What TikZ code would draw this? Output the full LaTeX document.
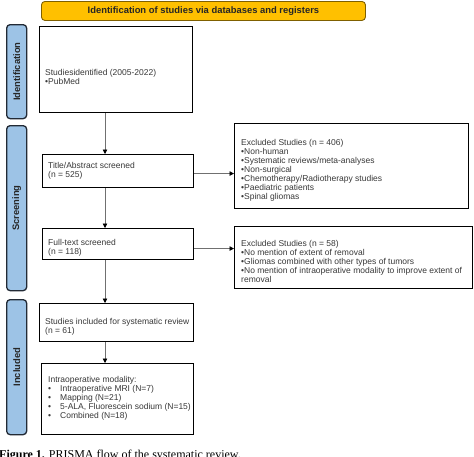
\documentclass[tikz,border=0pt]{standalone}
\usepackage{fontspec}
\setmainfont{Liberation Sans}
\newfontfamily\capfont{Liberation Serif}
\usetikzlibrary{arrows.meta}
\definecolor{bannerfill}{HTML}{FFC000}
\definecolor{bannerdraw}{HTML}{7F6000}
\definecolor{sidefill}{HTML}{9DC3E6}
\definecolor{sidedraw}{HTML}{222A35}
\definecolor{txtgray}{HTML}{383838}
\definecolor{arrgray}{HTML}{707070}
\begin{document}
\begin{tikzpicture}[x=1pt,y=-1pt,
  box/.style={draw=black, line width=1.1pt, rectangle, inner sep=0pt, anchor=north west},
  txt/.style={font=\fontsize{8.5}{9}\selectfont, text=txtgray, align=left, inner sep=0pt, anchor=west},
  side/.style={draw=sidedraw, fill=sidefill, line width=1.3pt, rounded corners=3.5pt, anchor=north west, inner sep=0pt},
  sidetxt/.style={font=\bfseries\fontsize{9.4}{10}\selectfont, text=black!85, rotate=90},
  banner/.style={draw=bannerdraw, fill=bannerfill, line width=0.9pt, rounded corners=3.5pt, anchor=north west, inner sep=0pt, font=\bfseries\fontsize{9.4}{10}\selectfont, text=black!85},
  arr/.style={draw=arrgray, line width=0.7pt, -{Triangle[length=4.5pt,width=4.5pt,color=black]}}
]
\useasboundingbox (0,0) rectangle (474,456);
\fill[white] (0,0) rectangle (474,456);

% banner
\node[banner, minimum width=324pt, minimum height=19pt] (ban) at (41,1) {Identification of studies via databases and registers};

% side bars
\node[side, minimum width=20pt, minimum height=94pt] (sid) at (6,24) {};
\node[sidetxt] (sidt) at (sid.center) {Identification};
\node[side, minimum width=20pt, minimum height=165pt] (sscr) at (6,125) {};
\node[sidetxt] (sscrt) at (sscr.center) {Screening};
\node[side, minimum width=20pt, minimum height=135pt] (sinc) at (6,299) {};
\node[sidetxt] (sinct) at (sinc.center) {Included};

% boxes
\node[box, minimum width=153pt, minimum height=86pt] (b1) at (39,26) {};
\node[txt] (t1) at (45,77.2) {Studiesidentified (2005-2022)\\\textbullet PubMed};

\node[box, minimum width=151pt, minimum height=33pt] (b2) at (42,154) {};
\node[txt] (t2) at ([xshift=6pt]b2.west) {Title/Abstract screened\\(n = 525)};

\node[box, minimum width=151pt, minimum height=31pt] (b3) at (42,228) {};
\node[txt] (t3) at ([xshift=6pt,yshift=-3.5pt]b3.west) {Full-text screened\\(n = 118)};

\node[box, minimum width=154pt, minimum height=38pt] (b4) at (39,303) {};
\node[txt] (t4) at ([xshift=6pt,yshift=-4.5pt]b4.west) {Studies included for systematic review\\(n = 61)};

\node[box, minimum width=152pt, minimum height=71pt] (b5) at (41,363) {};
\node[txt, font=\fontsize{8.5}{9.1}\selectfont] (t5) at ([xshift=7pt,yshift=1pt]b5.west) {Intraoperative modality:\\
\makebox[12pt][l]{\textbullet}Intraoperative MRI (N=7)\\
\makebox[12pt][l]{\textbullet}Mapping (N=21)\\
\makebox[12pt][l]{\textbullet}5-ALA, Fluorescein sodium (N=15)\\
\makebox[12pt][l]{\textbullet}Combined (N=18)};

\node[box, minimum width=234pt, minimum height=85pt] (e1) at (234,123) {};
\node[txt] (te1) at ([xshift=7pt,yshift=-4.5pt]e1.west) {Excluded Studies (n = 406)\\
\textbullet Non-human\\
\textbullet Systematic reviews/meta-analyses\\
\textbullet Non-surgical\\
\textbullet Chemotherapy/Radiotherapy studies\\
\textbullet Paediatric patients\\
\textbullet Spinal gliomas};

\node[box, minimum width=238pt, minimum height=62pt] (e2) at (234,226) {};
\node[txt] (te2) at ([xshift=7pt,yshift=-4pt]e2.west) {Excluded Studies (n = 58)\\
\textbullet No mention of extent of removal\\
\textbullet Gliomas combined with other types of tumors\\
\textbullet No mention of intraoperative modality to improve extent of\\
removal};

% connectors
\coordinate (ax) at (105,0);
\draw[arr] (b1.south -| ax) -- (b2.north -| ax);
\draw[arr] (b2.south -| ax) -- (b3.north -| ax);
\draw[arr] (b3.south -| ax) -- (b4.north -| ax);
\draw[arr] (b4.south -| ax) -- (b5.north -| ax);
\coordinate (h1) at ([yshift=-2.5pt]b2.east);
\draw[arr] (h1) -- (h1 -| e1.west);
\coordinate (h2) at ([yshift=-4.5pt]b3.east);
\draw[arr] (h2) -- (h2 -| e2.west);

% caption
\node[anchor=base west, inner sep=0pt, font=\capfont\fontsize{12}{14}\selectfont] (cap) at (-1,458.5) {\textbf{Figure 1.} PRISMA flow of the systematic review.};
\end{tikzpicture}
\end{document}
